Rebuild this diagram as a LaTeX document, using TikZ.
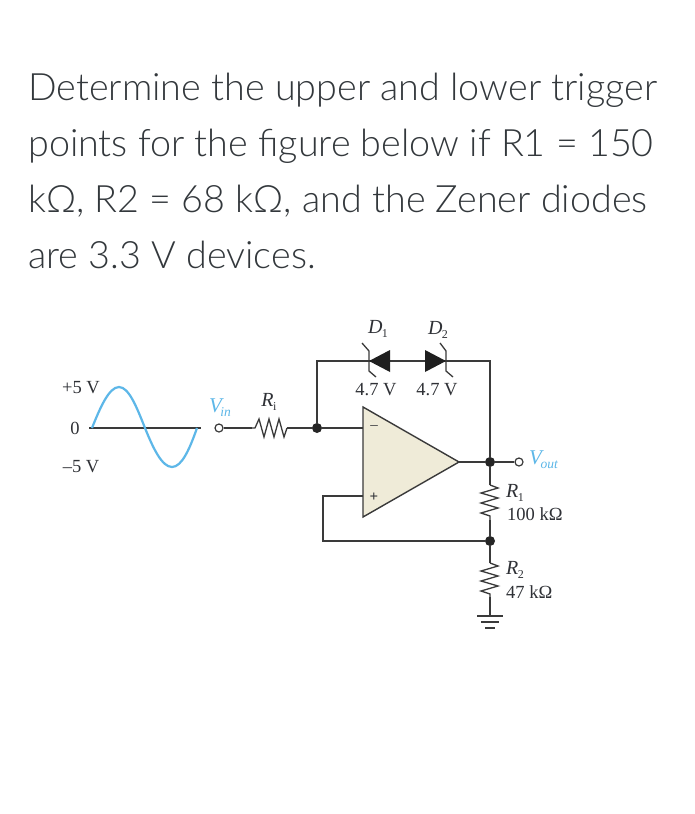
\documentclass[tikz,border=0pt]{standalone}
\usepackage{fontspec}
\setmainfont{Liberation Serif}
\newfontfamily\qfont{Lato Light}
\definecolor{wirecol}{HTML}{3A3A3A}
\definecolor{bluecol}{HTML}{5DB7E8}
\definecolor{ampfill}{HTML}{EFEBD8}
\definecolor{qcol}{HTML}{33383C}
\definecolor{lblcol}{HTML}{2F3136}
\newcommand{\subl}[2]{{\itshape #1}\kern-0.5pt\raisebox{-3.5pt}{\fontsize{12}{12}\selectfont\upshape #2}}
\newcommand{\subv}[2]{{\itshape #1}\kern-1.5pt\raisebox{-4pt}{\fontsize{13.5}{13.5}\selectfont\itshape #2}}
\tikzset{
 wire/.style={draw=wirecol,line width=1.3pt,line join=miter},
 dotn/.style={circle,fill=black!85,inner sep=0pt,minimum size=10pt},
 term/.style={circle,draw=wirecol,fill=white,line width=1.2pt,inner sep=0pt,minimum size=8pt},
 qline/.style={font=\qfont\fontsize{37.7}{40}\selectfont,text=qcol,anchor=base west,inner sep=0pt},
 lbl/.style={font=\fontsize{18.5}{20}\selectfont,text=lblcol,inner sep=0pt},
 lbli/.style={font=\fontsize{20}{20}\selectfont,text=lblcol,inner sep=0pt},
 vlbl/.style={font=\fontsize{21}{21}\selectfont,text=bluecol,inner sep=0pt},
 diode/.style={fill=black!88,draw=none},
 zbar/.style={draw=wirecol,line width=1.3pt},
}
\begin{document}
\begin{tikzpicture}[x=1pt,y=-1pt]
\useasboundingbox (0,0) rectangle (695,814);
\fill[white] (0,0) rectangle (695,814);
\node[qline] (q1) at (28,100) {Determine the upper and lower trigger};
\node[qline] (q2) at (28,156) {points for the figure below if R1 = 150};
\node[qline] (q3) at (28,212) {kΩ, R2 = 68 kΩ, and the Zener diodes};
\node[qline] (q4) at (28,268) {are 3.3 V devices.};

% coordinates
\coordinate (axL) at (89,428);
\coordinate (axR) at (201,428);
\node[term] (vin) at (219,428) {};
\coordinate (riA) at (252,428);
\coordinate (riB) at (287,428);
\node[dotn] (jin) at (317,428) {};
\coordinate (tl) at (317,361);
\coordinate (tr) at (490,361);
\coordinate (minus) at (363,428);
\coordinate (plus) at (363,496);
\coordinate (ampT) at (363,407);
\coordinate (ampB) at (363,517);
\coordinate (ampO) at (459,462);
\node[dotn] (jout) at (490,462) {};
\node[term] (vout) at (519,462) {};
\coordinate (r1A) at (490,485);
\coordinate (r1B) at (490,520);
\node[dotn] (jfb) at (490,541) {};
\coordinate (r2A) at (490,563);
\coordinate (r2B) at (490,597);
\coordinate (gnd) at (490,616);
\coordinate (ll) at (323,496);
\coordinate (lb) at (323,541);

% sine
\draw[wire,line width=1.1pt] (axL) -- (axR);
\draw[draw=bluecol,line width=2.2pt] (92,428)
  .. controls (100,408) and (109,387) .. (119,387)
  .. controls (129,387) and (137,408) .. (145,428)
  .. controls (153,448) and (162,467) .. (172,467)
  .. controls (182,467) and (190,448) .. (197,428);

% wires
\draw[wire] (vin) -- (riA);
\draw[wire] (riA) -- ++(3,0) -- ++(4,-9) -- ++(5,18) -- ++(5,-18) -- ++(5,18) -- ++(5,-18) -- ++(5,18) -- ++(3,-9) -- (riB);
\draw[wire] (riB) -- (jin);
\draw[wire] (jin) -- (minus);
\draw[wire] (jin) -- (tl) -- (tr) -- (jout);
\draw[wire] (ampO) -- (jout);
\draw[wire] (jout) -- (vout);
\draw[wire] (jout) -- (r1A);
\draw[wire] (r1A) -- ++(8,3) -- ++(-17,5) -- ++(17,5) -- ++(-17,5) -- ++(17,5) -- ++(-17,5) -- ++(9,3) -- (r1B);
\draw[wire] (r1B) -- (jfb);
\draw[wire] (jfb) -- (r2A);
\draw[wire] (r2A) -- ++(8,3) -- ++(-17,5) -- ++(17,5) -- ++(-17,5) -- ++(17,5) -- ++(-17,5) -- ++(9,3) -- (r2B);
\draw[wire] (r2B) -- (gnd);
\draw[wire] (plus) -- (ll) -- (lb) -- (jfb);

% ground
\draw[wire,line width=1.8pt] (477,616) -- (503,616);
\draw[wire,line width=1.8pt] (481,622) -- (499,622);
\draw[wire,line width=1.8pt] (485,628) -- (495,628);

% op amp
\draw[wire,fill=ampfill,line width=1.4pt] (ampT) -- (ampO) -- (ampB) -- cycle;
\node[font=\fontsize{15}{15}\selectfont,text=lblcol,inner sep=0pt] (mn) at (374,428) {--};
\node[font=\bfseries\fontsize{15}{15}\selectfont,text=lblcol,inner sep=0pt] (pl) at (374,497) {+};

% diodes
\fill[diode] (369,361) -- (390,350) -- (390,372) -- cycle;
\draw[zbar] (362,343) -- (369,351) -- (369,371) -- (376,377);
\fill[diode] (446,361) -- (425,350) -- (425,372) -- cycle;
\draw[zbar] (440,343) -- (446,351) -- (446,371) -- (453,377);

% labels
\node[lbli] (d1) at (378,329) {\subl{D}{1}};
\node[lbli] (d2) at (438,330) {\subl{D}{2}};
\node[lbl] (v1) at (376,390) {4.7 V};
\node[lbl] (v2) at (437,390) {4.7 V};
\node[lbl] (p5) at (81,388) {+5 V};
\node[lbl] (z0) at (75,428) {0};
\node[lbl] (m5) at (81,467) {–5 V};
\node[vlbl] (vinl) at (220,408) {\subv{V}{in}};
\node[lbli] (ril) at (269,402) {\subl{R}{i}};
\node[vlbl,anchor=west] (voutl) at (529,460) {\subv{V}{out}};
\node[lbli] (r1l) at (515,493) {\subl{R}{1}};
\node[lbl,anchor=west] (r1v) at (507,514) {100 kΩ};
\node[lbli] (r2l) at (515,570) {\subl{R}{2}};
\node[lbl,anchor=west] (r2v) at (506,592) {47 kΩ};
\end{tikzpicture}
\end{document}
